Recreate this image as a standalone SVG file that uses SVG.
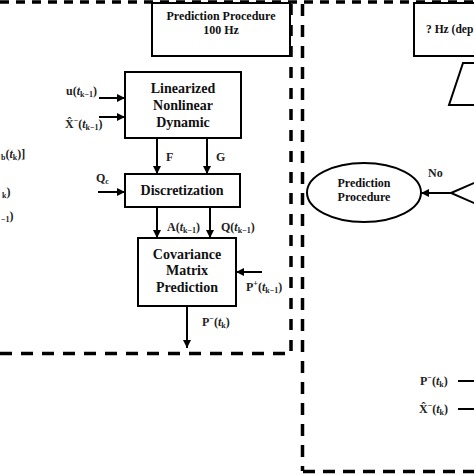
<svg xmlns="http://www.w3.org/2000/svg" width="474" height="474" viewBox="0 0 474 474">
<style>
.box{fill:#fff;stroke:#000;stroke-width:2}
.dash{fill:none;stroke:#000;stroke-width:3.5}
.ln{fill:none;stroke:#000;stroke-width:2}
.t{font-family:"Liberation Serif","Times New Roman",serif;font-weight:bold;fill:#111;text-anchor:middle}
.m{font-family:"Liberation Serif","Times New Roman",serif;font-weight:bold;fill:#222;font-size:12px}
.i{font-style:italic}
.s{font-size:8px}
</style>
<defs>
<marker id="ah" viewBox="0 0 10 10" refX="10" refY="5" markerWidth="9" markerHeight="8" markerUnits="userSpaceOnUse" orient="auto"><path d="M0,0 L10,5 L0,10 z" fill="#000"/></marker>
</defs>
<rect width="474" height="474" fill="#fff"/>
<g id="frames">
<line class="dash" x1="0" y1="2" x2="474" y2="2" stroke-dasharray="9 7" stroke-width="4"/>
<line class="dash" x1="291" y1="4" x2="291" y2="355" stroke-dasharray="11 10"/>
<line class="dash" x1="0" y1="353.5" x2="291" y2="353.5" stroke-dasharray="12 9"/>
<line class="dash" x1="302.5" y1="4" x2="302.5" y2="471" stroke-dasharray="12 9"/>
<line class="dash" x1="303" y1="471.5" x2="474" y2="471.5" stroke-dasharray="12 8"/>
</g>
<g id="header-left">
<rect class="box" x="152" y="3" width="138" height="53"/>
<text class="t" x="221" y="20" font-size="12">Prediction Procedure</text>
<text class="t" x="221" y="34" font-size="12">100 Hz</text>
</g>
<g id="header-right">
<rect class="box" x="414" y="3" width="70" height="53"/>
<text class="t" x="426" y="33" font-size="11.5" style="text-anchor:start">? Hz (dep</text>
</g>
<g id="parallelogram">
<polygon class="box" points="463,63 490,63 490,105 449,105"/>
</g>
<g id="linearized">
<rect class="box" x="125" y="72" width="116" height="66"/>
<text class="t" x="183" y="93" font-size="14">Linearized</text>
<text class="t" x="183" y="110" font-size="14">Nonlinear</text>
<text class="t" x="183" y="127" font-size="14">Dynamic</text>
</g>
<g id="discretization">
<rect class="box" x="125" y="174" width="115" height="33"/>
<text class="t" x="182" y="195" font-size="14">Discretization</text>
</g>
<g id="covariance">
<rect class="box" x="138" y="238" width="98" height="68"/>
<text class="t" x="187" y="259" font-size="14">Covariance</text>
<text class="t" x="187" y="275" font-size="14">Matrix</text>
<text class="t" x="187" y="292" font-size="14">Prediction</text>
</g>
<g id="prediction-ellipse">
<ellipse class="box" cx="364" cy="192.5" rx="57" ry="29.5"/>
<text class="t" x="364" y="187" font-size="12">Prediction</text>
<text class="t" x="364" y="201" font-size="12">Procedure</text>
</g>
<g id="decision">
<polygon class="box" points="451,193 520,163 589,193 520,223"/>
</g>
<g id="connectors">
<line class="ln" x1="99" y1="98" x2="125" y2="98" marker-end="url(#ah)"/>
<line class="ln" x1="99" y1="117" x2="125" y2="117" marker-end="url(#ah)"/>
<line class="ln" x1="157" y1="138" x2="157" y2="174" marker-end="url(#ah)"/>
<line class="ln" x1="207" y1="138" x2="207" y2="174" marker-end="url(#ah)"/>
<line class="ln" x1="98" y1="192" x2="125" y2="192" marker-end="url(#ah)"/>
<line class="ln" x1="157" y1="207" x2="157" y2="238" marker-end="url(#ah)"/>
<line class="ln" x1="210" y1="207" x2="210" y2="238" marker-end="url(#ah)"/>
<line class="ln" x1="262" y1="272" x2="236" y2="272" marker-end="url(#ah)"/>
<line class="ln" x1="187" y1="306" x2="187" y2="348" marker-end="url(#ah)"/>
<line class="ln" x1="451" y1="193" x2="421" y2="193" marker-end="url(#ah)"/>
<line class="ln" x1="458" y1="381" x2="474" y2="381"/>
<line class="ln" x1="458" y1="409" x2="474" y2="409"/>
</g>
<g id="labels">
<text class="m" x="66" y="95">u(<tspan class="i">t</tspan><tspan class="s" dy="2">k−1</tspan><tspan dy="-2">)</tspan></text>
<text class="m" x="65" y="128">X̂<tspan class="s" dy="-5">−</tspan><tspan dy="5">(</tspan><tspan class="i">t</tspan><tspan class="s" dy="2">k−1</tspan><tspan dy="-2">)</tspan></text>
<text class="m" x="96" y="182">Q<tspan class="s" dy="2">c</tspan></text>
<text class="m" x="166" y="161" font-size="10">F</text>
<text class="m" x="216" y="161" font-size="10">G</text>
<text class="m" x="167" y="231">A(<tspan class="i">t</tspan><tspan class="s" dy="2">k−1</tspan><tspan dy="-2">)</tspan></text>
<text class="m" x="221" y="231">Q(<tspan class="i">t</tspan><tspan class="s" dy="2">k−1</tspan><tspan dy="-2">)</tspan></text>
<text class="m" x="246" y="291">P<tspan class="s" dy="-5">+</tspan><tspan dy="5">(</tspan><tspan class="i">t</tspan><tspan class="s" dy="2">k−1</tspan><tspan dy="-2">)</tspan></text>
<text class="m" x="202" y="326">P<tspan class="s" dy="-5">−</tspan><tspan dy="5">(</tspan><tspan class="i">t</tspan><tspan class="s" dy="2">k</tspan><tspan dy="-2">)</tspan></text>
<text class="m" x="428" y="177" font-size="10">No</text>
<text class="m" x="420" y="385">P<tspan class="s" dy="-5">−</tspan><tspan dy="5">(</tspan><tspan class="i">t</tspan><tspan class="s" dy="2">k</tspan><tspan dy="-2">)</tspan></text>
<text class="m" x="419" y="413">X̂<tspan class="s" dy="-5">−</tspan><tspan dy="5">(</tspan><tspan class="i">t</tspan><tspan class="s" dy="2">k</tspan><tspan dy="-2">)</tspan></text>
<text class="m" x="1" y="158"><tspan class="s" dy="2">b</tspan><tspan dy="-2">(</tspan><tspan class="i">t</tspan><tspan class="s" dy="2">k</tspan><tspan dy="-2">)]</tspan></text>
<text class="m" x="2" y="196"><tspan class="s" dy="2">k</tspan><tspan dy="-2">)</tspan></text>
<text class="m" x="1" y="220"><tspan class="s" dy="2">−1</tspan><tspan dy="-2">)</tspan></text>
</g>
</svg>
